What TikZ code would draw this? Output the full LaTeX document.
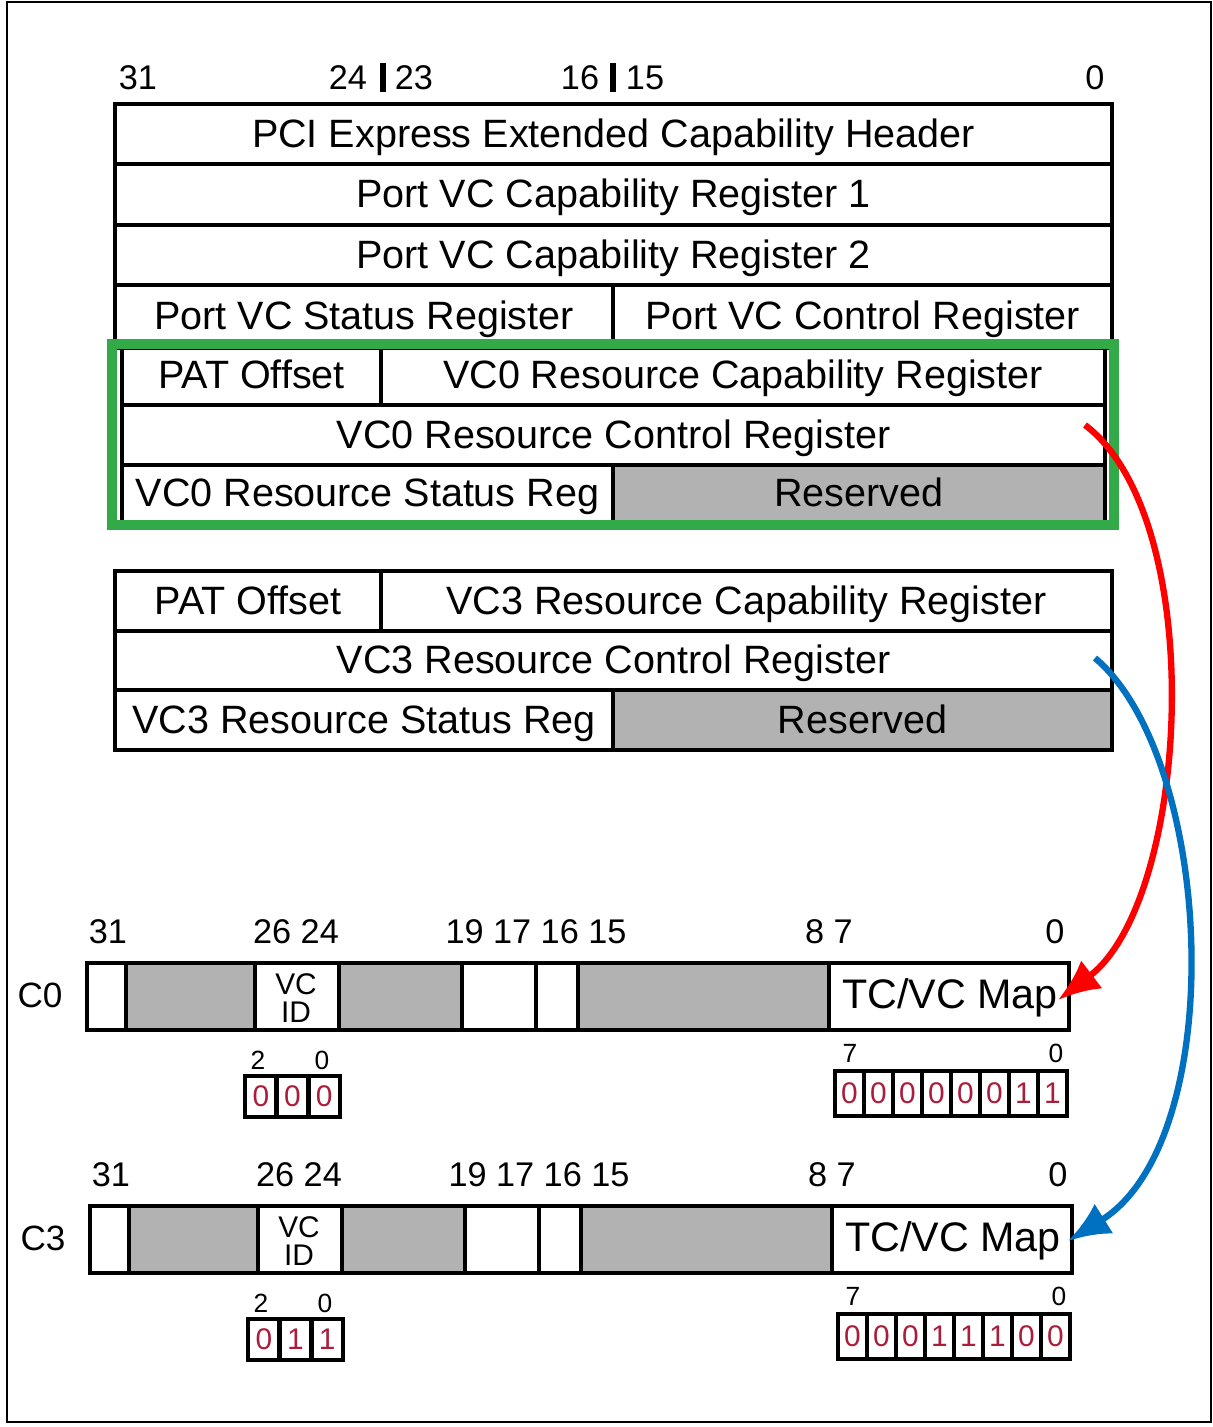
\documentclass[tikz,border=0pt]{standalone}
\usepackage{fontspec}
\setmainfont{Liberation Sans}
\usetikzlibrary{arrows.meta}
\definecolor{gr}{RGB}{178,178,178}
\definecolor{grn}{RGB}{51,170,72}
\definecolor{bitred}{RGB}{170,30,60}
\definecolor{myblue}{RGB}{0,112,192}
\newcommand\Cell[7][]{\node[cell,#1,minimum width={((#5)-(#3))*0.02cm},minimum height={((#6)-(#4))*0.02cm}] (#2) at ({((#3)+(#5))/2},{((#4)+(#6))/2}) {#7};}
\begin{document}
\begin{tikzpicture}[x=0.02cm,y=-0.02cm,
  cell/.style={draw,line width=2.3pt,inner sep=0pt,font=\fontsize{22.5}{24}\selectfont,text height=16pt,text depth=1pt},
  gcell/.style={fill=gr},
  lbl/.style={font=\fontsize{19.5}{20}\selectfont,inner sep=0pt},
  sm/.style={font=\fontsize{15}{16}\selectfont,inner sep=0pt},
  bit/.style={cell,font=\fontsize{17}{18}\selectfont,text=bitred,line width=2.6pt,text height=12pt,text depth=1pt},
  arr/.style={line width=3.6pt,-{Latex[length=24pt,width=20pt]}}]
\useasboundingbox (0,0) rectangle (1213,1427);
\draw[line width=0.8pt] (7,2) rectangle (1211,1422);
% top headers
\node[lbl] (h31) at (138,78) {31};
\node[lbl] (h24) at (348,78) {24};
\node[lbl] (h23) at (414,78) {23};
\node[lbl] (h16) at (580,78) {16};
\node[lbl] (h15) at (645,78) {15};
\node[lbl] (h0) at (1095,78) {0};
\draw[line width=3pt] (383,63) -- (383,92);
\draw[line width=3pt] (613,63) -- (613,92);
% top table
\Cell{r1}{115}{104}{1112}{164}{PCI Express Extended Capability Header}
\Cell{r2}{115}{164}{1112}{225}{Port VC Capability Register 1}
\Cell{r3}{115}{225}{1112}{285}{Port VC Capability Register 2}
\Cell{r4a}{115}{285}{613}{348}{Port VC Status Register}
\Cell{r4b}{613}{285}{1112}{348}{Port VC Control Register}
\Cell{a1}{122}{345}{381}{405}{PAT Offset}
\Cell{a2}{381}{345}{1105}{405}{VC0 Resource Capability Register}
\Cell{a3}{122}{405}{1105}{465}{VC0 Resource Control Register}
\Cell{a4}{122}{465}{613}{522}{VC0 Resource Status Reg}
\Cell[gcell]{a5}{613}{465}{1105}{522}{Reserved}
\draw[grn,line width=6pt] (112,344) rectangle (1114,525);
% VC3 table
\Cell{b1}{115}{571}{381}{631}{PAT Offset}
\Cell{b2}{381}{571}{1112}{631}{VC3 Resource Capability Register}
\Cell{b3}{115}{631}{1112}{690}{VC3 Resource Control Register}
\Cell{b4}{115}{690}{613}{750}{VC3 Resource Status Reg}
\Cell[gcell]{b5}{613}{690}{1112}{750}{Reserved}
% registers
\foreach \dy/\dx/\nm/\vid/\map in {0/0/c0/{0,0,0}/{0,0,0,0,0,0,1,1},243/3/c3/{0,1,1}/{0,0,0,1,1,1,0,0}}{
 \begin{scope}[shift={(\dx,\dy)}]
 \node[lbl] (\nm l31) at (108,932) {31};
 \node[lbl] (\nm l26) at (296,932) {26 24};
 \node[lbl] (\nm l19) at (536,932) {19 17 16 15};
 \node[lbl] (\nm l8) at (829,932) {8 7};
 \node[lbl] (\nm l0) at (1055,932) {0};
 \Cell{\nm c1}{87}{963}{126}{1030}{}
 \Cell[gcell]{\nm c2}{126}{963}{255}{1030}{}
 \Cell[gcell]{\nm c4}{339}{963}{462}{1030}{}
 \Cell{\nm c3}{255}{963}{339}{1030}{}
 \node[align=center,inner sep=0pt,font=\fontsize{17}{16}\selectfont] (\nm vc) at (296,998) {VC\\ID};
 \Cell{\nm c5}{462}{963}{536}{1030}{}
 \Cell{\nm c6}{536}{963}{578}{1030}{}
 \Cell[gcell]{\nm c7}{578}{963}{829}{1030}{}
 \Cell{\nm c8}{829}{963}{1069}{1030}{}
 \node[anchor=east,inner sep=0pt,font=\fontsize{23.5}{26}\selectfont] (\nm map) at (1058,998) {TC/VC Map};
 \node[sm] (\nm s2) at (258,1060) {2};
 \node[sm] (\nm s0) at (322,1060) {0};
 \node[sm] (\nm t7) at (850,1053) {7};
 \node[sm] (\nm t0) at (1056,1053) {0};
 \foreach \v [count=\i from 0] in \vid {
   \Cell[bit]{\nm v\i}{245+\i*31.7}{1076}{245+\i*31.7+31.7}{1117}{\v}}
 \foreach \v [count=\i from 0] in \map {
   \Cell[bit]{\nm m\i}{835+\i*29}{1071}{835+\i*29+29}{1116}{\v}}
 \end{scope}}
\node[font=\fontsize{20}{22}\selectfont] (lc0) at (40,995) {C0};
\node[font=\fontsize{20}{22}\selectfont] (lc3) at (43,1238) {C3};
% arrows
\coordinate (rs) at (1085,425);
\coordinate (re) at (1058,1000);
\coordinate (bs) at (1095,658);
\coordinate (be) at (1068,1241);
\draw[arr,red] (rs) .. controls (1210,520) and (1190,900) .. (re);
\draw[arr,myblue] (bs) .. controls (1215,760) and (1230,1140) .. (be);
\end{tikzpicture}
\end{document}
